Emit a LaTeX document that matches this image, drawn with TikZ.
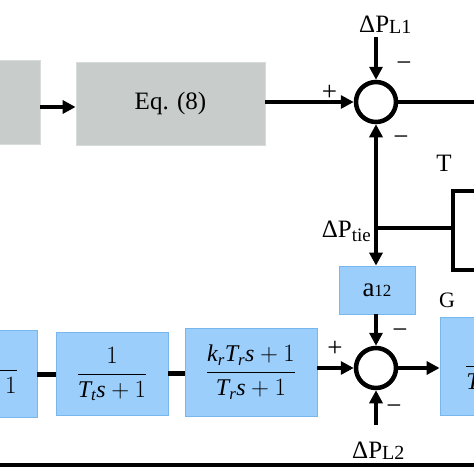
\documentclass[tikz,border=0pt]{standalone}
\usepackage{fontspec}
\setmainfont{Liberation Serif}
\usetikzlibrary{arrows.meta}
\definecolor{gboxc}{RGB}{200,205,203}
\definecolor{gbord}{RGB}{215,219,217}
\definecolor{bboxc}{RGB}{156,206,252}
\definecolor{bbord}{RGB}{120,182,238}
\newcommand{\fs}[1]{\fontsize{#1}{#1}\selectfont}
\newcommand{\mv}[1]{\mathit{#1}}
\begin{document}
\begin{tikzpicture}[x=1pt,y=-1pt,
  gbox/.style={draw=gbord,fill=gboxc,line width=0.8pt,inner sep=0pt},
  bbox/.style={draw=bbord,fill=bboxc,line width=0.8pt,inner sep=0pt},
  sumc/.style={circle,draw=black,fill=white,line width=4.5pt,minimum size=40pt,inner sep=0pt},
  sig/.style={inner sep=0pt,font=\fs{27}},
  arr/.style={line width=4pt,-{Triangle[length=13pt,width=13pt]}},
  lnk/.style={line width=5pt},
  lab/.style={inner sep=0pt,font=\fs{25}},
  frac/.style={inner sep=0pt,font=\fs{24}}]
\useasboundingbox (0,0) rectangle (474,474);
\clip (0,0) rectangle (474,474);
\fill[white] (0,0) rectangle (474,474);

% top row
\node[gbox,minimum width=60pt,minimum height=84pt] (g0) at (10,102) {};
\node[gbox,minimum width=189pt,minimum height=83pt,font=\fs{25}] (eq) at (170.5,103.5) {Eq. (8)};
\node[sumc] (c1) at (376,102) {};
\coordinate (out1) at (480,102);
\coordinate (pl1in) at (376,37);
\node[lab,anchor=base west] (pl1) at (359,32) {ΔP\raisebox{-1.5pt}{\fs{20}L1}};

\draw[arr] (g0.east |- 0,107) -- (eq.west |- 0,107);
\draw[arr] (eq.east |- c1) -- (c1);
\draw[line width=4pt] (c1) -- (out1);
\draw[arr] (pl1in) -- (c1.north);
\node[sig] (p1) at (329.5,93) {+};
\node[sig] (m1) at (404,67) {−};
\node[sig] (m2) at (401,141) {−};
\node[lab] (tl) at (444,163) {T};

% tie-line section
\node[draw=black,line width=3.5pt,minimum width=47pt,minimum height=79pt,inner sep=0pt] (tb) at (476.5,230.5) {};
\coordinate (J) at (376,228);
\node[lab,anchor=base east] (ptie) at (371,237) {ΔP\raisebox{-4pt}{\fs{19}tie}};
\node[bbox,minimum width=76pt,minimum height=48pt] (a12) at (377,290) {\fs{27}a\fs{17}12};
\draw[arr] (J) -- (c1.south);
\draw[line width=4pt] (J) -- (J -| tb.west);
\draw[arr] (J) -- (J |- a12.north);

% bottom row
\node[bbox,minimum width=57pt,minimum height=87pt] (b1) at (8.5,374) {};
\node[frac,anchor=east] (f1) at (18,372) {$\displaystyle\frac{1}{\mv{T}_{\mv{g}}\mv{s}+1}$};
\node[bbox,minimum width=112pt,minimum height=83pt,font=\fs{24}] (b2) at (112,374) {$\displaystyle\frac{1}{\mv{T}_{\mv{t}}\mv{s}+1}$};
\node[bbox,minimum width=132pt,minimum height=88pt,font=\fs{24}] (b3) at (251,372) {$\displaystyle\frac{\mv{k}_{\mv{r}}\mv{T}_{\mv{r}}\mv{s}+1}{\mv{T}_{\mv{r}}\mv{s}+1}$};
\node[sumc] (c2) at (376,368) {};
\node[bbox,minimum width=60pt,minimum height=98pt] (gb) at (470,366) {};
\node[frac,anchor=west] (fg) at (465,368) {$\displaystyle\frac{\mv{K}_{\mv{p}}}{\mv{T}_{\mv{p}}\mv{s}+1}$};
\node[lab,font=\fs{22}] (gl) at (447,300) {G};
\coordinate (pl2in) at (376,425);
\node[lab,anchor=base west] (pl2) at (352,458) {ΔP\raisebox{-1.5pt}{\fs{20}L2}};

\draw[lnk] (b1.east) -- (b2.west);
\draw[lnk] (b2.east |- 0,373) -- (b3.west |- 0,373);
\draw[arr] (b3.east |- c2) -- (c2);
\draw[arr] (a12.south -| c2) -- (c2.north);
\draw[arr] (pl2in) -- (c2.south);
\draw[arr] (c2) -- (c2 -| gb.west);
\node[sig] (p2) at (335,349) {+};
\node[sig] (m3) at (400,334) {−};
\node[sig] (m4) at (394,410) {−};

\draw[line width=4pt] (-5,465) -- (480,465);
\end{tikzpicture}
\end{document}
